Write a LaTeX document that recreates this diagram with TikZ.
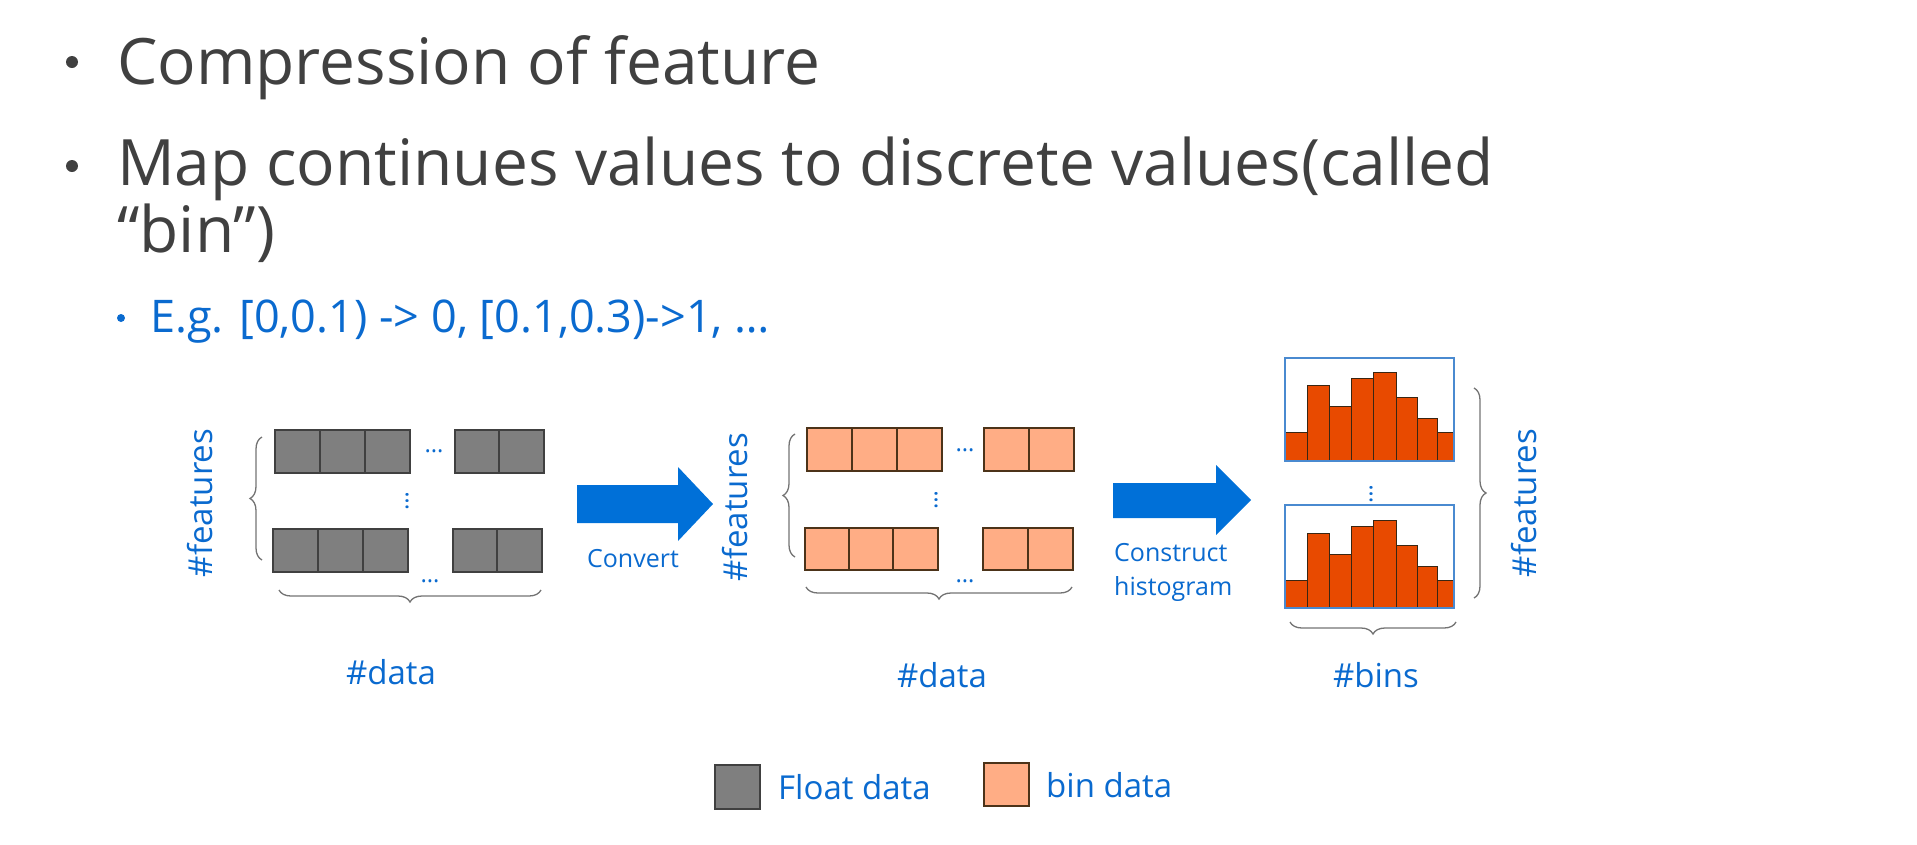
\documentclass[tikz,border=0pt]{standalone}
\usepackage{fontspec}
\setmainfont{Open Sans}
\usetikzlibrary{decorations.pathreplacing}
\definecolor{txtgray}{HTML}{404040}
\definecolor{lblue}{HTML}{0A6ACF}
\definecolor{arrblue}{HTML}{0070D8}
\definecolor{cellgray}{HTML}{7F7F7F}
\definecolor{cellorange}{HTML}{FFAD85}
\definecolor{barorange}{HTML}{E84A00}
\definecolor{boxblue}{HTML}{4A8AD0}
\tikzset{
  fl/.style={fill=cellgray,draw=txtgray,line width=1.2pt},
  bn/.style={fill=cellorange,draw=black!60!brown,line width=1.2pt},
  bar/.style={fill=barorange,draw=black!70!brown,line width=1pt},
  hbox/.style={draw=boxblue,line width=1.6pt},
  brc/.style={draw=black!55,line width=1.3pt,decorate,decoration={brace,amplitude=12pt}},
  lbl/.style={text=lblue,font=\fontsize{33}{36}\selectfont,inner sep=0pt},
  small/.style={text=lblue,font=\fontsize{25}{34}\selectfont,inner sep=0pt,align=left},
  dots/.style={text=lblue,font=\fontsize{24}{26}\selectfont,inner sep=0pt},
  big/.style={text=txtgray,font=\fontsize{64}{70}\selectfont,inner sep=0pt,anchor=base west},
  barrow/.style={fill=arrblue,draw=none}
}
\begin{document}
\begin{tikzpicture}[x=1pt,y=-1pt]
\useasboundingbox (0,0) rectangle (1917,844);
% titles
\fill[txtgray] (72,62) circle (6);
\node[big] (t1) at (117,84) {Compression of feature};
\fill[txtgray] (72,166) circle (6);
\node[big] (t2) at (117,185) {Map continues values to discrete values(called};
\node[big] (t3) at (117,252) {“bin”)};
\fill[lblue] (121,318) circle (4);
\node[text=lblue,font=\fontsize{45}{50}\selectfont,inner sep=0pt,anchor=base west] (t4) at (150,332) {E.g. [0,0.1) -> 0, [0.1,0.3)->1, …};
% gray cells
\foreach \x in {275,320,365,455,499}{\draw[fl] (\x,430) rectangle ++(45,43);}
\foreach \x in {273,318,363,453,497}{\draw[fl] (\x,529) rectangle ++(45,43);}
\node[dots] (gd1) at (434,451) {…};
\node[dots,rotate=90] (gd2) at (407,501) {…};
\node[dots] (gd3) at (430,581) {…};
\draw[brc] (262,560) -- (262,437);
\draw[brc] (541,590) -- (279,590);
\node[lbl,rotate=90] (f1) at (200,503) {\#features};
\node[lbl] (d1) at (391,672) {\#data};
% arrow 1
\fill[barrow] (577,485) -- (678,485) -- (678,467) -- (713,504) -- (678,541) -- (678,523) -- (577,523) -- cycle;
\node[small] (c1) at (633,559) {Convert};
% orange cells
\foreach \x in {807,852,897,984,1029}{\draw[bn] (\x,428) rectangle ++(45,43);}
\foreach \x in {805,849,893,983,1028}{\draw[bn] (\x,528) rectangle ++(45,42);}
\node[dots] (od1) at (965,450) {…};
\node[dots,rotate=90] (od2) at (936,500) {…};
\node[dots] (od3) at (965,581) {…};
\draw[brc] (795,557) -- (795,434);
\draw[brc] (1072,587) -- (806,587);
\node[lbl,rotate=90] (f2) at (735,507) {\#features};
\node[lbl] (d2) at (942,675) {\#data};
% arrow 2
\fill[barrow] (1113,483) -- (1216,483) -- (1216,465) -- (1251,500) -- (1216,535) -- (1216,518) -- (1113,518) -- cycle;
\node[small,anchor=west] (c2) at (1114,572) {Construct\\histogram};
% histograms
\foreach \a/\b/\t in {1285/1307/432,1307/1329/385,1329/1351/406,1351/1373/378,1373/1396/372,1396/1417/397,1417/1437/418,1437/1454/432}{
  \draw[bar] (\a,461) rectangle (\b,\t);
  \draw[bar] (\a,608) rectangle (\b,\t+148);
}
\draw[hbox] (1285,358) rectangle (1454,461);
\draw[hbox] (1285,505) rectangle (1454,608);
\node[dots,rotate=90] (hd) at (1371,494) {…};
\draw[brc] (1474,388) -- (1474,598);
\node[lbl,rotate=90] (f3) at (1524,503) {\#features};
\draw[brc] (1456,622) -- (1290,622);
\node[lbl] (d3) at (1376,675) {\#bins};
% legend
\draw[fl] (715,765) rectangle (760,809);
\node[lbl,anchor=west] (l1) at (778,787) {Float data};
\draw[bn] (984,763) rectangle (1029,806);
\node[lbl,anchor=west] (l2) at (1046,785) {bin data};
\end{tikzpicture}
\end{document}
